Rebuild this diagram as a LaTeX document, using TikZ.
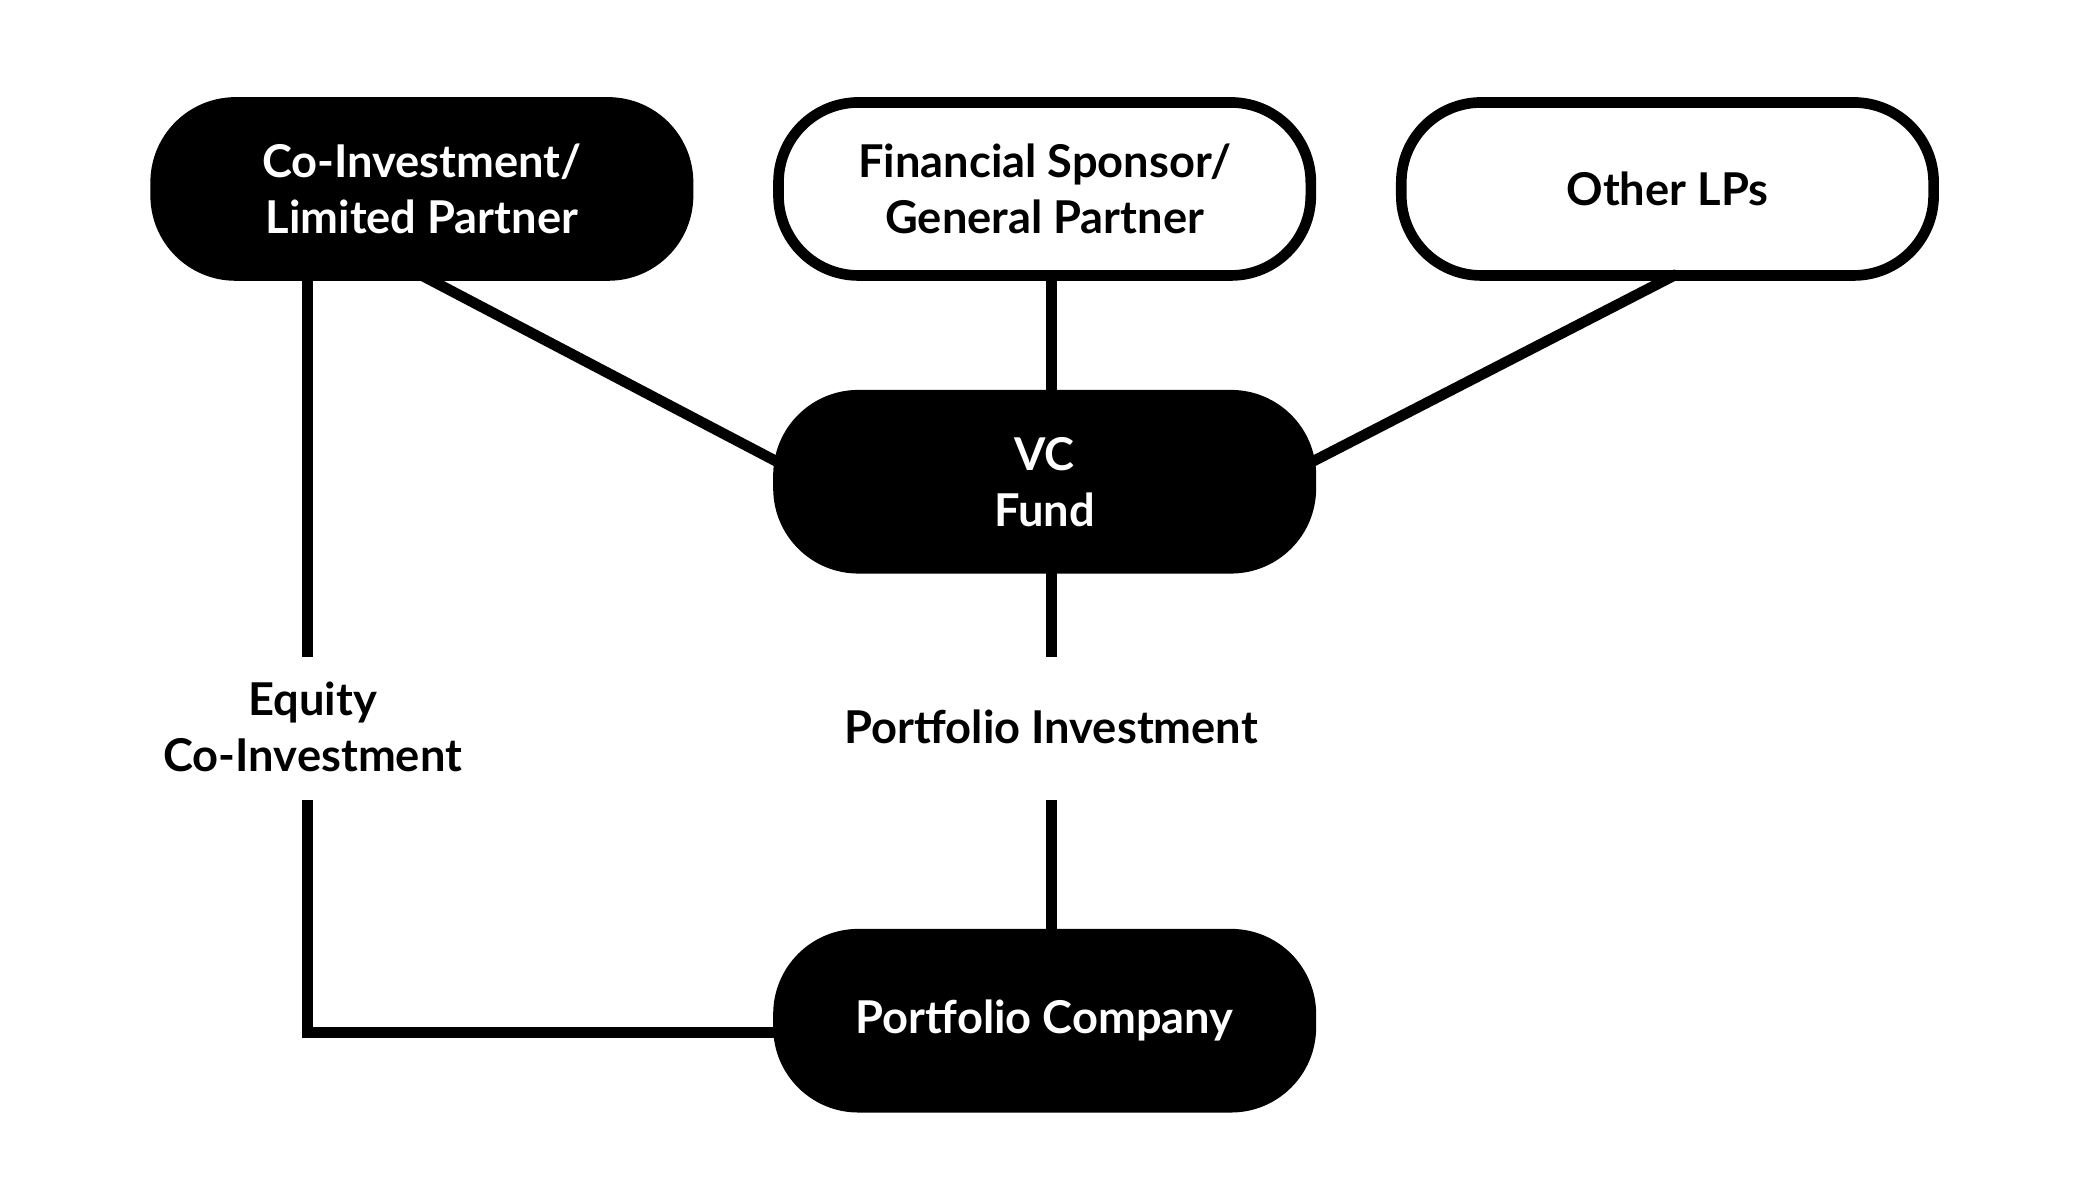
\documentclass[tikz,border=0pt]{standalone}
\usepackage{fontspec}
\setmainfont{Lato}[UprightFont=* Bold]
\begin{document}
\begin{tikzpicture}[x=1pt,y=-1pt,
  box/.style={rounded corners=60pt,minimum width=400pt,minimum height=130pt,line width=8pt,draw=black,align=center,font=\fontsize{34}{42}\selectfont},
  dark/.style={box,fill=black,text=white},
  light/.style={box,fill=white,text=black},
  lbl/.style={align=center,font=\fontsize{34}{42}\selectfont},
  ln/.style={line width=8pt}]
\useasboundingbox (0,0) rectangle (1560,890);
\node[dark] (co) at (317,142) {Co-Investment/\\Limited Partner};
\node[light] (fs) at (785,142) {Financial Sponsor/\\General Partner};
\node[light] (lp) at (1253,142) {Other LPs};
\node[dark] (vc) at (785,362) {VC\\Fund};
\node[dark] (pc) at (785,767) {Portfolio Company};
\node[lbl] (eq) at (235,546) {Equity\\Co-Investment};
\node[lbl] (pi) at (790,546) {Portfolio Investment};
\coordinate (a1) at (231,207); \coordinate (a2) at (231,494);
\coordinate (a3) at (231,601); \coordinate (a4) at (231,776); \coordinate (a5) at (584,776);
\coordinate (b1) at (790,428); \coordinate (b2) at (790,494);
\coordinate (b3) at (790,601); \coordinate (b4) at (790,702);
\draw[ln] (a1) -- (a2);
\draw[ln] (a3) -- (a4) -- (a5);
\draw[ln] (317,207) -- (584,347);
\draw[ln] (790,206) -- (790,297);
\draw[ln] (1260,206) -- (986,347);
\draw[ln] (b1) -- (b2);
\draw[ln] (b3) -- (b4);
\end{tikzpicture}
\end{document}
